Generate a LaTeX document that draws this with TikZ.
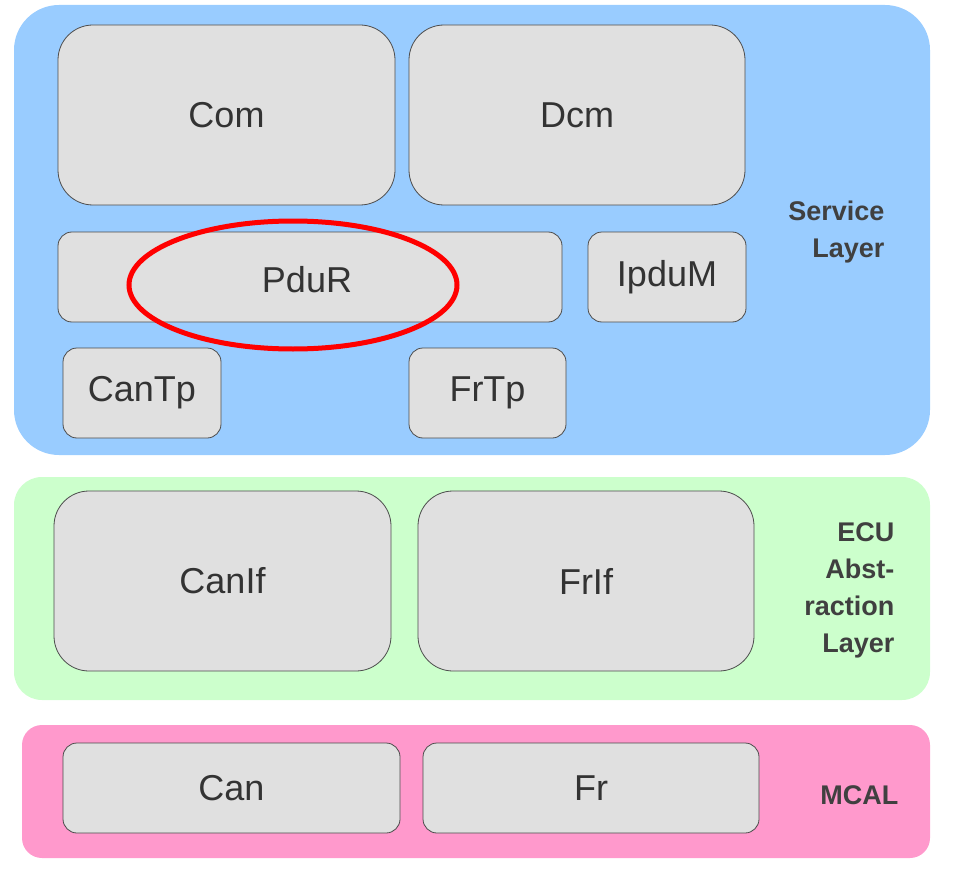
\documentclass[tikz,border=0pt]{standalone}
\usepackage{fontspec}
\setmainfont{Liberation Sans}
\begin{document}
\begin{tikzpicture}[x=1pt,y=-1pt,
  layer/.style={rounded corners=#1,draw=none},
  mod/.style={draw=black!70,fill=black!12,line width=0.8pt,font=\fontsize{36}{42}\selectfont,text=black!80},
  lbl/.style={font=\bfseries\fontsize{27}{37}\selectfont,text=black!75,align=right,anchor=east}]
\useasboundingbox (0,0) rectangle (956,872);
\fill[layer=45pt,fill={rgb,255:red,153;green,204;blue,255}] (14,5) rectangle (930,455);
\fill[layer=28pt,fill={rgb,255:red,204;green,255;blue,204}] (14,477) rectangle (930,700);
\fill[layer=20pt,fill={rgb,255:red,255;green,153;blue,204}] (22,725) rectangle (930,858);
\draw[mod,rounded corners=35pt] (58,25) rectangle (395,205) node[midway] (com) {Com};
\draw[mod,rounded corners=35pt] (409,25) rectangle (745,205) node[midway] (dcm) {Dcm};
\draw[mod,rounded corners=14pt] (58,232) rectangle (562,322);
\node[mod,draw=none,fill=none] (pdur) at (307,280) {PduR};
\draw[mod,rounded corners=14pt] (588,232) rectangle (746,322) node[midway] (ipdum) {IpduM};
\draw[mod,rounded corners=14pt] (63,348) rectangle (221,438) node[midway] (cantp) {CanTp};
\draw[mod,rounded corners=14pt] (409,348) rectangle (566,438) node[midway] (frtp) {FrTp};
\draw[mod,rounded corners=35pt] (54,491) rectangle (391,671) node[midway] (canif) {CanIf};
\draw[mod,rounded corners=35pt] (418,491) rectangle (754,671) node[midway] (frif) {FrIf};
\draw[mod,rounded corners=14pt] (63,743) rectangle (400,833) node[midway] (can) {Can};
\draw[mod,rounded corners=14pt] (423,743) rectangle (759,833) node[midway] (fr) {Fr};
\draw[red,line width=5pt] (293,285) ellipse [x radius=164,y radius=64];
\node[lbl] (sl) at (888,232) {Service\\Layer};
\node[lbl] (ecu) at (898,590) {ECU\\Abst-\\raction\\Layer};
\node[lbl] (mcal) at (902,795) {MCAL};
\end{tikzpicture}
\end{document}
